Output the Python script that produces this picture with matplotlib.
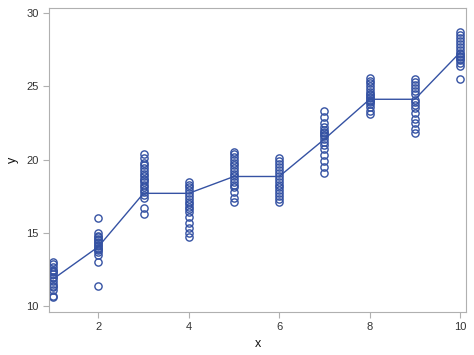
import matplotlib
matplotlib.use("Agg")
import matplotlib.pyplot as plt

x_levels = [1, 2, 3, 4, 5, 6, 7, 8, 9, 10]

y1 = [10.6, 10.7, 11.1, 11.3, 11.4, 11.5, 11.7, 11.9, 12.0, 12.2, 12.3, 12.4, 12.5, 12.7, 12.9, 13.0]
y2 = [11.4, 13.0, 13.5, 13.7, 13.8, 13.9, 14.0, 14.1, 14.2, 14.3, 14.4, 14.5, 14.6, 14.7, 14.8, 15.0, 16.0]
y3 = [16.3, 16.7, 17.4, 17.6, 17.8, 17.9, 18.1, 18.3, 18.5, 18.6, 18.7, 18.9, 19.0, 19.2, 19.4, 19.6, 19.8, 20.1, 20.4]
y4 = [14.7, 15.0, 15.3, 15.7, 16.1, 16.4, 16.6, 16.8, 17.0, 17.1, 17.3, 17.5, 17.7, 17.9, 18.1, 18.3, 18.5]
y5 = [17.1, 17.4, 17.8, 18.1, 18.3, 18.5, 18.7, 18.9, 19.0, 19.2, 19.4, 19.6, 19.8, 20.0, 20.2, 20.4, 20.5]
y6 = [17.1, 17.3, 17.5, 17.7, 17.9, 18.1, 18.3, 18.5, 18.7, 18.9, 19.1, 19.3, 19.5, 19.7, 19.9, 20.1]
y7 = [19.1, 19.5, 19.9, 20.3, 20.7, 21.0, 21.2, 21.4, 21.6, 21.7, 21.8, 21.9, 22.0, 22.2, 22.5, 22.9, 23.3]
y8 = [23.1, 23.3, 23.6, 23.8, 23.9, 24.0, 24.1, 24.2, 24.3, 24.4, 24.5, 24.6, 24.8, 25.0, 25.2, 25.4, 25.6]
y9 = [21.8, 22.1, 22.5, 22.8, 23.2, 23.5, 23.7, 23.9, 24.1, 24.5, 24.7, 24.9, 25.1, 25.3, 25.5]
y10 = [25.5, 26.4, 26.6, 26.8, 26.9, 27.0, 27.1, 27.2, 27.3, 27.5, 27.7, 27.9, 28.1, 28.3, 28.5, 28.7]

fit_values = [11.85, 14.05, 17.7, 17.7, 18.85, 18.85, 21.4, 24.12, 24.12, 27.32]

x_ticks = [2, 4, 6, 8, 10]
y_ticks = [10, 15, 20, 25, 30]

groups = [y1, y2, y3, y4, y5, y6, y7, y8, y9, y10]

color = "#3552A3"
plt.rcParams['font.family'] = ['Liberation Sans', 'DejaVu Sans']

fig = plt.figure(figsize=(4.74, 3.55), dpi=100)
ax = fig.add_axes([49/474, 1 - 312/355, (466-49)/474, (312-8)/355])

for xv, ys in zip(x_levels, groups):
    ax.plot([xv]*len(ys), ys, linestyle='none', marker='o', markersize=5.2,
            markerfacecolor='none', markeredgecolor=color, markeredgewidth=1.0)

ax.plot(x_levels, fit_values, color=color, linewidth=1.0)

ax.set_xlim(0.91, 10.13)
ax.set_ylim(9.6, 30.35)
ax.set_xticks(x_ticks)
ax.set_yticks(y_ticks)
for s in ax.spines.values():
    s.set_color('#B0B0B0')
    s.set_linewidth(0.8)
ax.tick_params(colors='#333333', labelsize=8, length=4, width=0.8, color='#B0B0B0')
ax.set_xlabel('x', fontsize=9, color='#111111')
ax.set_ylabel('y', fontsize=9, color='#111111')
ax.yaxis.set_label_coords(-0.072, 0.5)
ax.xaxis.set_label_coords(0.5, -0.085)

fig.savefig('out.png', dpi=100)
